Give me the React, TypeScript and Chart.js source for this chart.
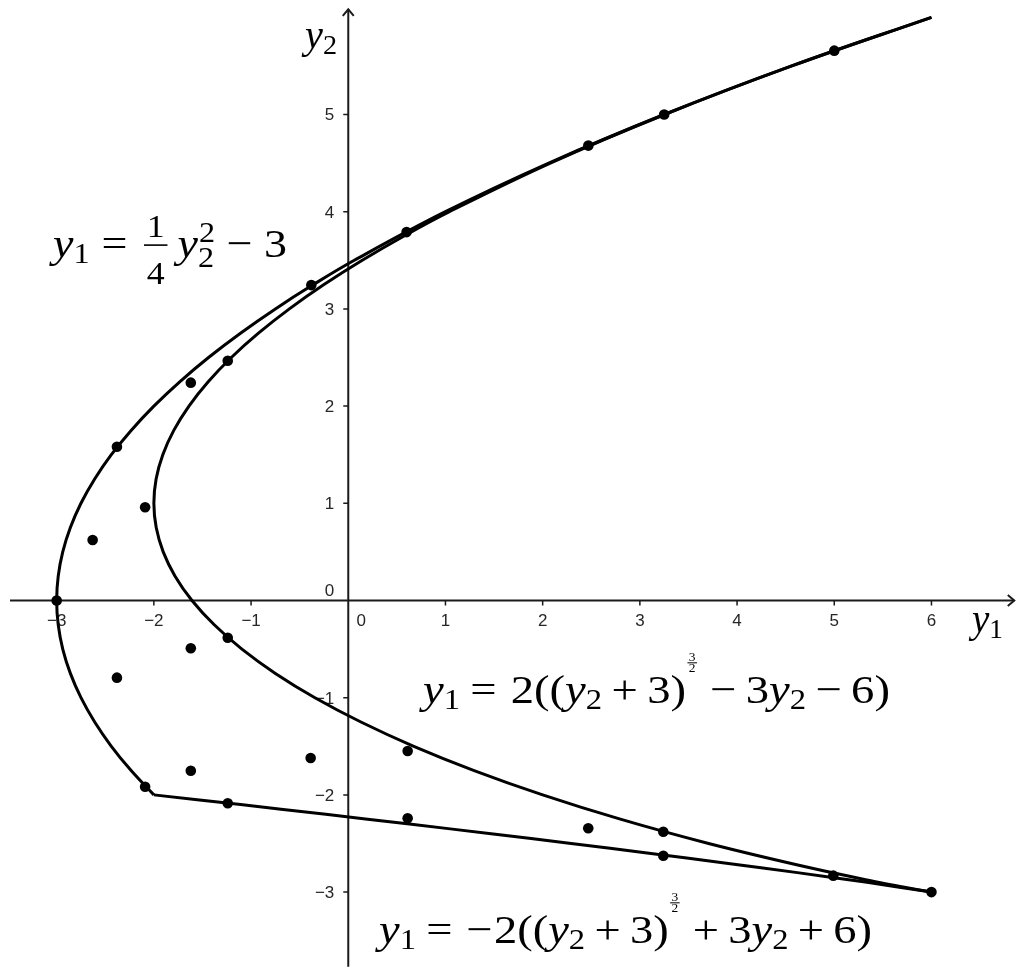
import { useEffect, useRef } from "react";
import { Chart, registerables } from "chart.js";

Chart.register(...registerables);

// ---- data (y1 = horizontal, y2 = vertical) ----
const parabolaY2 = [-2, -1.75, -1.5, -1.25, -1, -0.75, -0.5, -0.25, 0, 0.25, 0.5, 0.75, 1, 1.25, 1.5, 1.75, 2, 2.25, 2.5, 2.75, 3, 3.25, 3.5, 4, 4.5, 5, 5.5, 6];
const parabolaY1 = [-2, -2.234, -2.4375, -2.609, -2.75, -2.859, -2.9375, -2.984, -3, -2.984, -2.9375, -2.859, -2.75, -2.609, -2.4375, -2.234, -2, -1.734, -1.4375, -1.109, -0.75, -0.359, 0.0625, 1, 2.0625, 3.25, 4.5625, 6];

const upperCurveY2 = [-3, -2.95, -2.9, -2.75, -2.5, -2.25, -2, -1.75, -1.5, -1.25, -1, -0.75, -0.5, -0.25, 0, 0.25, 0.5, 0.75, 1, 1.25, 1.5, 1.75, 2, 2.25, 2.5, 2.75, 3, 3.25, 3.5, 3.75, 4, 4.5, 5, 5.5, 6];
const upperCurveY1 = [6, 5.722, 5.463, 4.75, 3.707, 2.799, 2, 1.295, 0.674, 0.13, -0.343, -0.75, -1.094, -1.379, -1.608, -1.782, -1.904, -1.976, -2, -1.977, -1.908, -1.795, -1.639, -1.441, -1.203, -0.924, -0.606, -0.25, 0.144, 0.574, 1.041, 2.079, 3.255, 4.563, 6];

const lowerCurveY2 = [-3, -2.9, -2.8, -2.7, -2.6, -2.5, -2.4, -2.3, -2.2, -2.1, -2];
const lowerCurveY1 = [6, 5.337, 4.621, 3.871, 3.094, 2.293, 1.47, 0.629, -0.231, -1.108, -2];

const dotsY1 = [5, 3.25, 2.47, 0.6, -0.38, -1.24, -1.62, -2.38, -2.09, -2.63, -3, -1.24, -1.62, -2.38, -2.09, -1.62, -1.24, -0.387, 0.611, 0.611, 2.469, 3.241, 3.241, 4.99, 6];
const dotsY2 = [5.657, 5.0, 4.68, 3.79, 3.245, 2.467, 2.241, 1.582, 0.959, 0.622, 0, -0.383, -0.492, -0.794, -1.916, -1.751, -2.086, -1.62, -1.548, -2.241, -2.344, -2.379, -2.626, -2.831, -3.0];

const xTickValues = [-3, -2, -1, 0, 1, 2, 3, 4, 5, 6];
const xTickLabels = ["−3", "−2", "−1", "0", "1", "2", "3", "4", "5", "6"];
const yTickValues = [-3, -2, -1, 0, 1, 2, 3, 4, 5];
const yTickLabels = ["−3", "−2", "−1", "0", "1", "2", "3", "4", "5"];

// ---- view window ----
const X_MIN = -3.583;
const X_MAX = 6.952;
const Y_MIN = -3.884;
const Y_MAX = 6.178;

const SERIF = '"Liberation Serif", "DejaVu Serif", serif';
const SANS = '"Liberation Sans", Arial, sans-serif';

type Part = {
  k: "it" | "rm" | "sub" | "subsup" | "sp" | "frac";
  t?: string;
  w?: number;
  sub?: string;
  sup?: string;
  n?: string;
  d?: string;
  s?: number;
  bar?: number;
  nb?: number;
  db?: number;
  pad?: number;
  th?: number;
};

function setFont(ctx: CanvasRenderingContext2D, size: number, italic = false) {
  ctx.font = `${italic ? "italic " : ""}${size}px ${SERIF}`;
}

function layoutMath(ctx: CanvasRenderingContext2D, parts: Part[], fs: number, draw: boolean): number {
  let x = 0;
  for (const p of parts) {
    if (p.k === "sp") {
      x += (p.w || 0) * fs;
    } else if (p.k === "it" || p.k === "rm") {
      setFont(ctx, fs, p.k === "it");
      if (draw) ctx.fillText(p.t!, x, 0);
      x += ctx.measureText(p.t!).width;
    } else if (p.k === "sub") {
      setFont(ctx, fs * 0.7);
      if (draw) ctx.fillText(p.t!, x, fs * 0.15);
      x += ctx.measureText(p.t!).width;
    } else if (p.k === "subsup") {
      setFont(ctx, fs * 0.7);
      const w1 = ctx.measureText(p.sub!).width;
      const w2 = ctx.measureText(p.sup!).width;
      if (draw) {
        ctx.fillText(p.sub!, x, fs * 0.25);
        ctx.fillText(p.sup!, x + fs * 0.02, -fs * 0.37);
      }
      x += Math.max(w1, w2 + fs * 0.02);
    } else if (p.k === "frac") {
      const s = p.s || 1;
      setFont(ctx, fs * s);
      const wn = ctx.measureText(p.n!).width;
      const wd = ctx.measureText(p.d!).width;
      const pad = (p.pad || 0) * fs;
      const w = Math.max(wn, wd) + pad * 2;
      if (draw) {
        const by = -(p.bar || 0) * fs;
        const th = p.th || 1.5;
        ctx.fillRect(x, by - th / 2, w, th);
        ctx.textAlign = "center";
        ctx.fillText(p.n!, x + w / 2, by - (p.nb || 0) * fs);
        ctx.fillText(p.d!, x + w / 2, by + (p.db || 0) * fs);
        ctx.textAlign = "left";
      }
      x += w;
    }
  }
  return x;
}

function drawMath(ctx: CanvasRenderingContext2D, parts: Part[], fs: number, x0: number, baseline: number, targetWidth?: number) {
  ctx.save();
  ctx.textAlign = "left";
  ctx.textBaseline = "alphabetic";
  ctx.fillStyle = "#000";
  const natural = layoutMath(ctx, parts, fs, false);
  const sx = targetWidth ? targetWidth / natural : 1;
  ctx.translate(x0, baseline);
  ctx.scale(sx, 1);
  layoutMath(ctx, parts, fs, true);
  ctx.restore();
}

const REL_L = 0.22;
const REL_R = 0.3;
const BIN = 0.2;
const supFrac: Part = { k: "frac", n: "3", d: "2", s: 0.29, bar: 0.98, nb: 0.05, db: 0.23, pad: 0.03, th: 1 };

const eq1: Part[] = [
  { k: "it", t: "y" }, { k: "sub", t: "1" }, { k: "sp", w: REL_L + 0.04 }, { k: "rm", t: "=" }, { k: "sp", w: REL_R + 0.06 },
  { k: "frac", n: "1", d: "4", s: 0.78, bar: 0.29, nb: 0.2, db: 0.95, pad: 0.06, th: 1.6 },
  { k: "sp", w: 0.22 }, { k: "it", t: "y" }, { k: "subsup", sub: "2", sup: "2" },
  { k: "sp", w: BIN + 0.05 }, { k: "rm", t: "−" }, { k: "sp", w: BIN + 0.05 }, { k: "rm", t: "3" },
];

const eq2: Part[] = [
  { k: "it", t: "y" }, { k: "sub", t: "1" }, { k: "sp", w: REL_L }, { k: "rm", t: "=" }, { k: "sp", w: REL_R },
  { k: "rm", t: "2((" }, { k: "it", t: "y" }, { k: "sub", t: "2" }, { k: "sp", w: BIN }, { k: "rm", t: "+" }, { k: "sp", w: BIN },
  { k: "rm", t: "3)" }, { k: "sp", w: 0.03 }, supFrac, { k: "sp", w: BIN + 0.08 }, { k: "rm", t: "−" }, { k: "sp", w: BIN },
  { k: "rm", t: "3" }, { k: "it", t: "y" }, { k: "sub", t: "2" }, { k: "sp", w: BIN }, { k: "rm", t: "−" }, { k: "sp", w: BIN },
  { k: "rm", t: "6)" },
];

const eq3: Part[] = [
  { k: "it", t: "y" }, { k: "sub", t: "1" }, { k: "sp", w: REL_L }, { k: "rm", t: "=" }, { k: "sp", w: REL_R },
  { k: "rm", t: "−" }, { k: "sp", w: 0.03 }, { k: "rm", t: "2((" }, { k: "it", t: "y" }, { k: "sub", t: "2" }, { k: "sp", w: BIN },
  { k: "rm", t: "+" }, { k: "sp", w: BIN }, { k: "rm", t: "3)" }, { k: "sp", w: 0.03 }, supFrac, { k: "sp", w: BIN + 0.08 },
  { k: "rm", t: "+" }, { k: "sp", w: BIN }, { k: "rm", t: "3" }, { k: "it", t: "y" }, { k: "sub", t: "2" }, { k: "sp", w: BIN },
  { k: "rm", t: "+" }, { k: "sp", w: BIN }, { k: "rm", t: "6)" },
];

const geoPlugin = {
  id: "geoAxes",
  beforeDatasetsDraw(chart: any) {
    const ctx: CanvasRenderingContext2D = chart.ctx;
    const xs = chart.scales.x;
    const ys = chart.scales.y;
    const ox = xs.getPixelForValue(0);
    const oy = ys.getPixelForValue(0);
    const xl = xs.getPixelForValue(-3.48);
    const xr = xs.getPixelForValue(6.852);
    const yt = ys.getPixelForValue(6.082);
    const yb = ys.getPixelForValue(-3.767);
    ctx.save();
    ctx.strokeStyle = "#1a1a1a";
    ctx.lineWidth = 2;
    ctx.beginPath();
    ctx.moveTo(xl, oy);
    ctx.lineTo(xr, oy);
    ctx.moveTo(ox, yb);
    ctx.lineTo(ox, yt);
    ctx.stroke();
    ctx.lineJoin = "miter";
    ctx.beginPath();
    ctx.moveTo(xr - 6.5, oy - 5.5);
    ctx.lineTo(xr, oy);
    ctx.lineTo(xr - 6.5, oy + 5.5);
    ctx.moveTo(ox - 5.5, yt + 6.5);
    ctx.lineTo(ox, yt);
    ctx.lineTo(ox + 5.5, yt + 6.5);
    ctx.stroke();
    ctx.lineWidth = 1.5;
    ctx.beginPath();
    xTickValues.forEach((v) => {
      if (v === 0) return;
      const px = xs.getPixelForValue(v);
      ctx.moveTo(px, oy);
      ctx.lineTo(px, oy + 5);
    });
    yTickValues.forEach((v) => {
      if (v === 0) return;
      const py = ys.getPixelForValue(v);
      ctx.moveTo(ox, py);
      ctx.lineTo(ox - 5, py);
    });
    ctx.stroke();
    ctx.fillStyle = "#262626";
    ctx.font = `17px ${SANS}`;
    ctx.textBaseline = "alphabetic";
    ctx.textAlign = "center";
    xTickValues.forEach((v, i) => {
      const px = v === 0 ? ox + 13 : xs.getPixelForValue(v);
      ctx.fillText(xTickLabels[i], px, oy + 26);
    });
    ctx.textAlign = "right";
    yTickValues.forEach((v, i) => {
      const py = v === 0 ? oy - 10 : ys.getPixelForValue(v);
      ctx.fillText(yTickLabels[i], ox - 14, py + 6);
    });
    ctx.restore();
  },
  afterDatasetsDraw(chart: any) {
    const ctx: CanvasRenderingContext2D = chart.ctx;
    const axisName: Part[] = [{ k: "it", t: "y" }, { k: "sub", t: "2" }];
    const axisName1: Part[] = [{ k: "it", t: "y" }, { k: "sub", t: "1" }];
    drawMath(ctx, axisName, 40, 305, 48, 32);
    drawMath(ctx, axisName1, 40, 972, 632, 31);
    drawMath(ctx, eq1, 41, 53, 257, 234);
    drawMath(ctx, eq2, 41, 423, 703, 467);
    drawMath(ctx, eq3, 41, 379, 943, 493);
  },
};

function pairs(xs: number[], ys: number[]) {
  return xs.map((x, i) => ({ x, y: ys[i] }));
}

export default function App() {
  const ref = useRef<HTMLCanvasElement>(null);
  useEffect(() => {
    const curveStyle = {
      showLine: true,
      borderColor: "#000",
      borderWidth: 3,
      borderJoinStyle: "round",
      pointRadius: 0,
      pointHoverRadius: 0,
      tension: 0.4,
      fill: false,
    };
    const chart = new Chart(ref.current!, {
      type: "scatter",
      data: {
        datasets: [
          {
            label: "points",
            data: pairs(dotsY1, dotsY2),
            pointRadius: 5.3,
            pointHoverRadius: 5.3,
            pointBackgroundColor: "#000",
            pointBorderColor: "#000",
            pointBorderWidth: 0,
            showLine: false,
          },
          { label: "y1 = 1/4 y2^2 - 3", data: pairs(parabolaY1, parabolaY2), ...curveStyle },
          { label: "y1 = 2((y2+3)^(3/2) - 3y2 - 6)", data: pairs(upperCurveY1, upperCurveY2), ...curveStyle },
          { label: "y1 = -2((y2+3)^(3/2) + 3y2 + 6)", data: pairs(lowerCurveY1, lowerCurveY2), ...curveStyle },
        ] as any,
      },
      options: {
        animation: false,
        responsive: true,
        maintainAspectRatio: false,
        events: [],
        layout: { padding: 0, autoPadding: false },
        plugins: { legend: { display: false }, tooltip: { enabled: false } },
        scales: {
          x: { type: "linear", min: X_MIN, max: X_MAX, display: false },
          y: { type: "linear", min: Y_MIN, max: Y_MAX, display: false },
        },
      },
      plugins: [geoPlugin],
    });
    return () => chart.destroy();
  }, []);
  return (
    <div style={{ position: "absolute", left: 0, top: 0, width: 1024, height: 978, background: "#fff" }}>
      <canvas ref={ref} />
    </div>
  );
}
